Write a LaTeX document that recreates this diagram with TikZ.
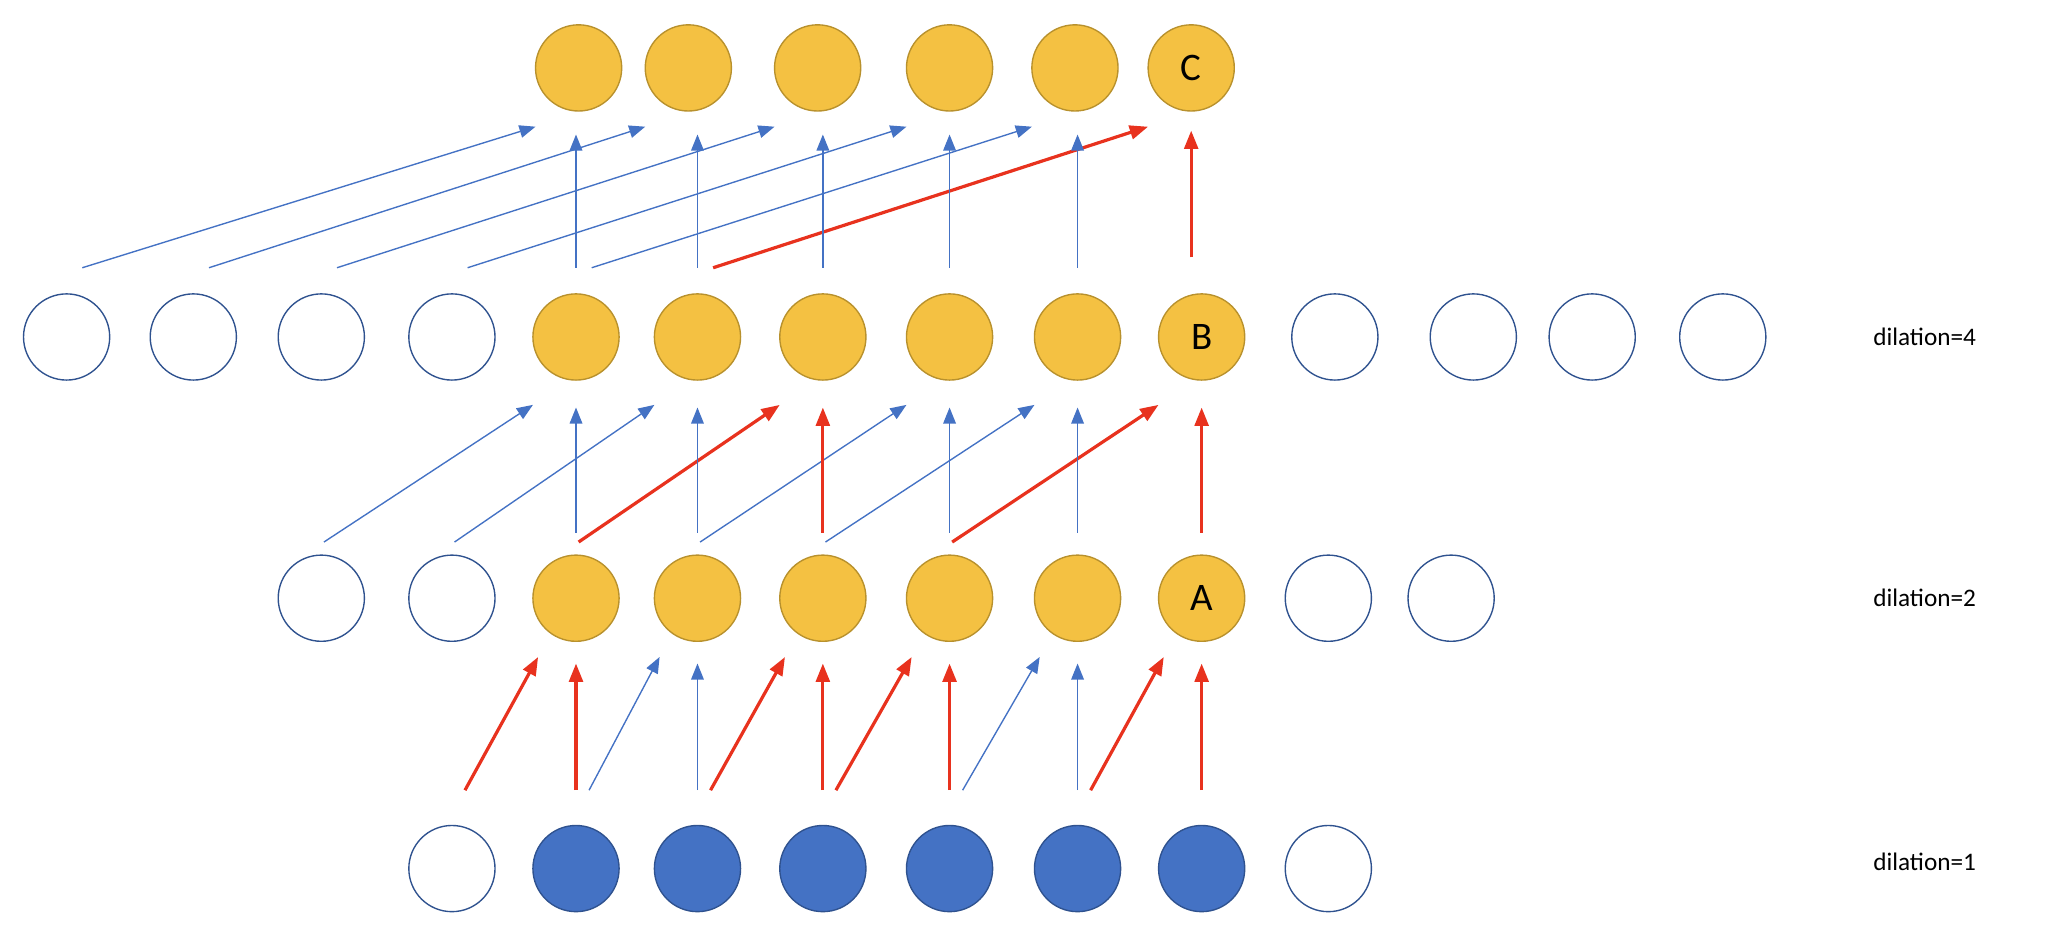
\documentclass[tikz,border=0pt]{standalone}
\usepackage{fontspec}
\setmainfont{Carlito}
\usetikzlibrary{arrows.meta}
\definecolor{yel}{HTML}{F4C142}
\definecolor{yelb}{HTML}{B8912D}
\definecolor{blu}{HTML}{4472C4}
\definecolor{blub}{HTML}{2F528F}
\definecolor{rd}{HTML}{E8321E}
\begin{document}
\begin{tikzpicture}[x=0.02cm,y=-0.02cm,
 cir/.style={circle,minimum size=1.32cm,inner sep=0pt,line width=0.6pt,font=\fontsize{17}{17}\selectfont},
 wn/.style={cir,draw=blub,fill=white},
 yn/.style={cir,draw=yelb,fill=yel},
 bn/.style={cir,draw=blub,fill=blu},
 ba/.style={draw=blu,line width=0.6pt,-{Triangle[length=7pt,width=5.5pt]}},
 ra/.style={draw=rd,line width=1.4pt,-{Triangle[length=8pt,width=6pt]}},
 lab/.style={font=\fontsize{11}{11}\selectfont,anchor=west}]
\useasboundingbox (0,0) rectangle (1568,719);
% row C
\foreach \x/\n/\t in {443/c1/,527/c2/,626/c3/,727/c4/,823/c5/,912/c6/C}
  \node[yn] (\n) at (\x,52) {\t};
% row B
\foreach \x/\n in {51/b1,148/b2,246/b3,346/b4,1022/b11,1128/b12,1219/b13,1319/b14}
  \node[wn] (\n) at (\x,258) {};
\foreach \x/\n/\t in {441/b5/,534/b6/,630/b7/,727/b8/,825/b9/,920/b10/B}
  \node[yn] (\n) at (\x,258) {\t};
% row A
\foreach \x/\n in {246/a1,346/a2,1017/a9,1111/a10}
  \node[wn] (\n) at (\x,458) {};
\foreach \x/\n/\t in {441/a3/,534/a4/,630/a5/,727/a6/,825/a7/,920/a8/A}
  \node[yn] (\n) at (\x,458) {\t};
% row 1
\node[wn] (i1) at (346,665) {};
\node[wn] (i8) at (1017,665) {};
\foreach \x/\n in {441/i2,534/i3,630/i4,727/i5,825/i6,920/i7}
  \node[bn] (\n) at (\x,665) {};
% labels
\node[lab] (l4) at (1428,258) {dilation=4};
\node[lab] (l2) at (1428,458) {dilation=2};
\node[lab] (l1) at (1428,660) {dilation=1};
% input -> A
\foreach \s/\t/\st in {i1/a3/ra,i2/a4/ba,i3/a5/ra,i4/a6/ra,i5/a7/ba,i6/a8/ra}{
  \path[\st] ([shift={(10,-60)}]\s.center) -- ([shift={(-29,45)}]\t.center);
}
\foreach \s/\t/\st in {i2/a3/ra,i3/a4/ba,i4/a5/ra,i5/a6/ra,i6/a7/ba,i7/a8/ra}{
  \path[\st] ([shift={(0,-60)}]\s.center) -- ([shift={(0,50)}]\t.center);
}
% A -> B
\foreach \s/\t/\st in {a1/b5/ba,a2/b6/ba,a3/b7/ra,a4/b8/ba,a5/b9/ba,a6/b10/ra}{
  \path[\st] ([shift={(2,-43)}]\s.center) -- ([shift={(-33,52)}]\t.center);
}
\foreach \s/\t/\st in {a3/b5/ba,a4/b6/ba,a5/b7/ra,a6/b8/ba,a7/b9/ba,a8/b10/ra}{
  \path[\st] ([shift={(0,-50)}]\s.center) -- ([shift={(0,54)}]\t.center);
}
% B -> C
\foreach \s/\t/\st in {b1/c1/ba,b2/c2/ba,b3/c3/ba,b4/c4/ba,b5/c5/ba,b6/c6/ra}{
  \path[\st] ([shift={(12,-53)}]\s.center) -- ([shift={(-33,45)}]\t.center);
}
\foreach \s/\t/\st in {b5/c1/ba,b6/c2/ba,b7/c3/ba,b8/c4/ba,b9/c5/ba}{
  \path[\st] ([shift={(0,-53)}]\s.center) -- ([shift={(0,-155)}]\s.center);
}
\path[ra] ([shift={(-8,-61)}]b10.center) -- ([shift={(0,48)}]c6.center);
\end{tikzpicture}
\end{document}
